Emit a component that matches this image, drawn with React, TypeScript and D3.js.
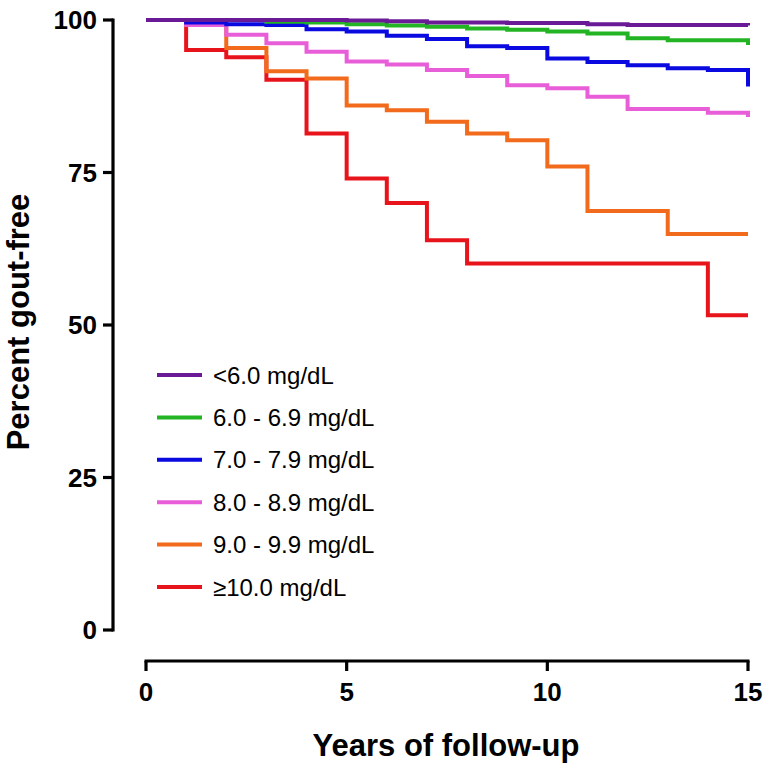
import React from "react";
import * as d3 from "d3";

const years = [0, 1, 2, 3, 4, 5, 6, 7, 8, 9, 10, 11, 12, 13, 14, 15, 15];

const seriesNames = [
  "<6.0 mg/dL",
  "6.0 - 6.9 mg/dL",
  "7.0 - 7.9 mg/dL",
  "8.0 - 8.9 mg/dL",
  "9.0 - 9.9 mg/dL",
  "\u226510.0 mg/dL",
];
const seriesColors = ["#6a1a96", "#22b422", "#0a0ae0", "#e85ed8", "#f26a1b", "#e8141c"];

const purple = [100, 100, 100, 100, 100, 99.9, 99.8, 99.6, 99.6, 99.5, 99.5, 99.3, 99.2, 99.2, 99.2, 99.2, 99.1];
const green = [100, 100, 100, 99.7, 99.6, 99.3, 99.1, 98.9, 98.6, 98.4, 98.1, 97.8, 97.0, 96.7, 96.7, 96.7, 95.9];
const blue = [100, 99.6, 99.3, 99.2, 98.5, 98.1, 97.4, 96.9, 95.7, 95.4, 93.7, 93.1, 92.6, 92.1, 91.8, 91.8, 89.1];
const pink = [100, 99.2, 97.6, 96.2, 94.8, 93.2, 92.7, 91.8, 90.8, 89.3, 88.8, 87.4, 85.4, 85.4, 84.8, 84.8, 84.1];
const orange = [100, 99.2, 95.4, 91.6, 90.4, 86.0, 85.2, 83.3, 81.4, 80.3, 76.0, 68.7, 68.7, 64.9, 64.9, 64.9, 64.9];
const red = [100, 95.1, 93.9, 90.2, 81.4, 74.0, 70.0, 63.9, 60.1, 60.1, 60.1, 60.1, 60.1, 60.1, 51.6, 51.6, 51.6];

const seriesValues = [purple, green, blue, pink, orange, red];

const xTicks = [0, 5, 10, 15];
const yTicks = [0, 25, 50, 75, 100];

export default function App() {
  const W = 768, H = 768;
  const x = d3.scaleLinear().domain([0, 15]).range([146, 748]);
  const y = d3.scaleLinear().domain([0, 100]).range([630, 20]);
  const yAxisX = 113;
  const xAxisY = 661;
  const line = d3
    .line<number>()
    .x((_, i) => x(years[i]))
    .y((d) => y(d))
    .curve(d3.curveStepAfter);

  const font = "'Liberation Sans', Arial, sans-serif";
  const order = [5, 4, 3, 2, 1, 0];

  return (
    <svg width={W} height={H} style={{ position: "absolute", left: 0, top: 0, background: "#fff" }} fontFamily={font}>
      <rect width={W} height={H} fill="#fff" />
      {/* y axis */}
      <line x1={yAxisX} x2={yAxisX} y1={y(100) - 1.5} y2={y(0) + 1.5} stroke="#000" strokeWidth={3.2} />
      {yTicks.map((t) => (
        <g key={t}>
          <line x1={yAxisX - 10} x2={yAxisX} y1={y(t)} y2={y(t)} stroke="#000" strokeWidth={3.2} />
          <text x={yAxisX - 16} y={y(t)} dy="0.36em" textAnchor="end" fontSize={26} fontWeight="bold">
            {t}
          </text>
        </g>
      ))}
      {/* x axis */}
      <line x1={x(0) - 1.5} x2={x(15) + 1.5} y1={xAxisY} y2={xAxisY} stroke="#000" strokeWidth={3.2} />
      {xTicks.map((t) => (
        <g key={t}>
          <line x1={x(t)} x2={x(t)} y1={xAxisY} y2={xAxisY + 10} stroke="#000" strokeWidth={3.2} />
          <text x={x(t)} y={xAxisY + 40} textAnchor="middle" fontSize={26} fontWeight="bold">
            {t}
          </text>
        </g>
      ))}
      <text x={446} y={756} textAnchor="middle" fontSize={31} fontWeight="bold">
        Years of follow-up
      </text>
      <text
        transform={`translate(29, ${y(50) - 3}) rotate(-90)`}
        textAnchor="middle"
        fontSize={31}
        fontWeight="bold"
      >
        Percent gout-free
      </text>
      {/* curves */}
      {order.map((i) => (
        <path
          key={i}
          d={line(seriesValues[i]) || ""}
          fill="none"
          stroke={seriesColors[i]}
          strokeWidth={4}
          strokeLinejoin="miter"
        />
      ))}
      {/* legend */}
      {seriesNames.map((name, i) => (
        <g key={name} transform={`translate(0, ${375 + i * 42.4})`}>
          <line x1={157} x2={202} y1={0} y2={0} stroke={seriesColors[i]} strokeWidth={4} />
          <text x={213} y={0} dy="0.36em" fontSize={24}>
            {name}
          </text>
        </g>
      ))}
    </svg>
  );
}
